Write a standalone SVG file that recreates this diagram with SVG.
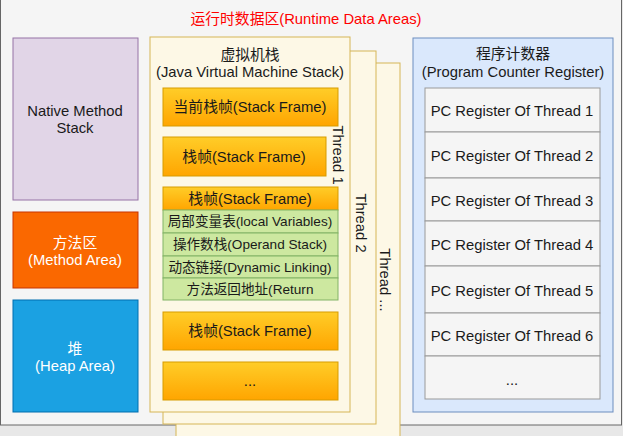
<svg xmlns="http://www.w3.org/2000/svg" width="623" height="436" viewBox="0 0 623 436">
<style>
text{font-family:"Liberation Sans","Noto Sans CJK SC",sans-serif;font-size:14.8px;text-anchor:middle;fill:#1a1a1a}
.s{font-size:13.6px}
.th{fill:#fdf8e6;stroke:#d6b656}
.fr{fill:url(#og);stroke:#d79b00}
.gr{fill:#cde8a0;stroke:#82b366}
.pc{fill:#f5f5f5;stroke:#999}
.w{fill:#fff}
</style>
<defs>
<linearGradient id="og" x1="0" y1="0" x2="0" y2="1"><stop offset="0" stop-color="#ffcd28"/><stop offset="1" stop-color="#ffa500"/></linearGradient>
</defs>
<rect x="0" y="0" width="623" height="436" fill="#e8e8e8"/>
<rect id="container" x="0.5" y="-1" width="621" height="426" fill="#f5f5f5" stroke="#666"/>
<text x="306" y="24" style="fill:#ff0000">运行时数据区(Runtime Data Areas)</text>
<g id="native"><rect x="13" y="38" width="125" height="162" fill="#e1d5e7" stroke="#9673a6"/><text x="75" y="116">Native Method</text><text x="75" y="133">Stack</text></g>
<g id="method"><rect x="13" y="212" width="125" height="76" fill="#fa6800" stroke="#c73500"/><text x="75" y="248" class="w">方法区</text><text x="75" y="265" class="w">(Method Area)</text></g>
<g id="heap"><rect x="13" y="300" width="125" height="112" fill="#1ba1e2" stroke="#006eaf"/><text x="75" y="354" class="w">堆</text><text x="75" y="371" class="w">(Heap Area)</text></g>
<g id="thread3"><rect class="th" x="176" y="63" width="224" height="380"/><text transform="translate(380,280) rotate(90)">Thread ...</text></g>
<g id="thread2"><rect class="th" x="163" y="51" width="213" height="373"/><text transform="translate(356,223) rotate(90)">Thread 2</text></g>
<g id="thread1"><rect class="th" x="150" y="37" width="200" height="375"/>
<text x="250" y="60">虚拟机栈</text><text x="250" y="77">(Java Virtual Machine Stack)</text>
<text transform="translate(333,155) rotate(90)">Thread 1</text></g>
<g id="frame1"><rect class="fr" x="163" y="88" width="175" height="38"/><text x="250" y="112">当前栈帧(Stack Frame)</text></g>
<g id="frame2"><rect class="fr" x="163" y="137" width="163" height="39"/><text x="244" y="162">栈帧(Stack Frame)</text></g>
<g id="frame3"><rect class="fr" x="163" y="187" width="175" height="23"/><text x="250" y="204">栈帧(Stack Frame)</text>
<rect class="gr" x="163" y="210" width="175" height="23"/><text x="250" y="226" class="s">局部变量表(local Variables)</text>
<rect class="gr" x="163" y="233" width="175" height="23"/><text x="250" y="249" class="s">操作数栈(Operand Stack)</text>
<rect class="gr" x="163" y="256" width="175" height="22"/><text x="250" y="272" class="s">动态链接(Dynamic Linking)</text>
<rect class="gr" x="163" y="278" width="175" height="22"/><text x="250" y="294" class="s">方法返回地址(Return</text></g>
<g id="frame4"><rect class="fr" x="163" y="312" width="175" height="38"/><text x="250" y="336">栈帧(Stack Frame)</text></g>
<g id="frame5"><rect class="fr" x="163" y="362" width="175" height="38"/><text x="250" y="386">...</text></g>
<g id="pcreg"><rect x="413" y="38" width="200" height="374" fill="#dae8fc" stroke="#6c8ebf"/>
<text x="513" y="59">程序计数器</text><text x="513" y="77">(Program Counter Register)</text></g>
<g id="pc1"><rect class="pc" x="425" y="88" width="175" height="44"/><text x="512" y="116">PC Register Of Thread 1</text></g>
<g id="pc2"><rect class="pc" x="425" y="132" width="175" height="46"/><text x="512" y="161">PC Register Of Thread 2</text></g>
<g id="pc3"><rect class="pc" x="425" y="178" width="175" height="43"/><text x="512" y="206">PC Register Of Thread 3</text></g>
<g id="pc4"><rect class="pc" x="425" y="221" width="175" height="45"/><text x="512" y="250">PC Register Of Thread 4</text></g>
<g id="pc5"><rect class="pc" x="425" y="266" width="175" height="47"/><text x="512" y="296">PC Register Of Thread 5</text></g>
<g id="pc6"><rect class="pc" x="425" y="313" width="175" height="43"/><text x="512" y="341">PC Register Of Thread 6</text></g>
<g id="pc7"><rect class="pc" x="425" y="356" width="175" height="43"/><text x="512" y="385">...</text></g>
<g id="connectors"/>
</svg>
